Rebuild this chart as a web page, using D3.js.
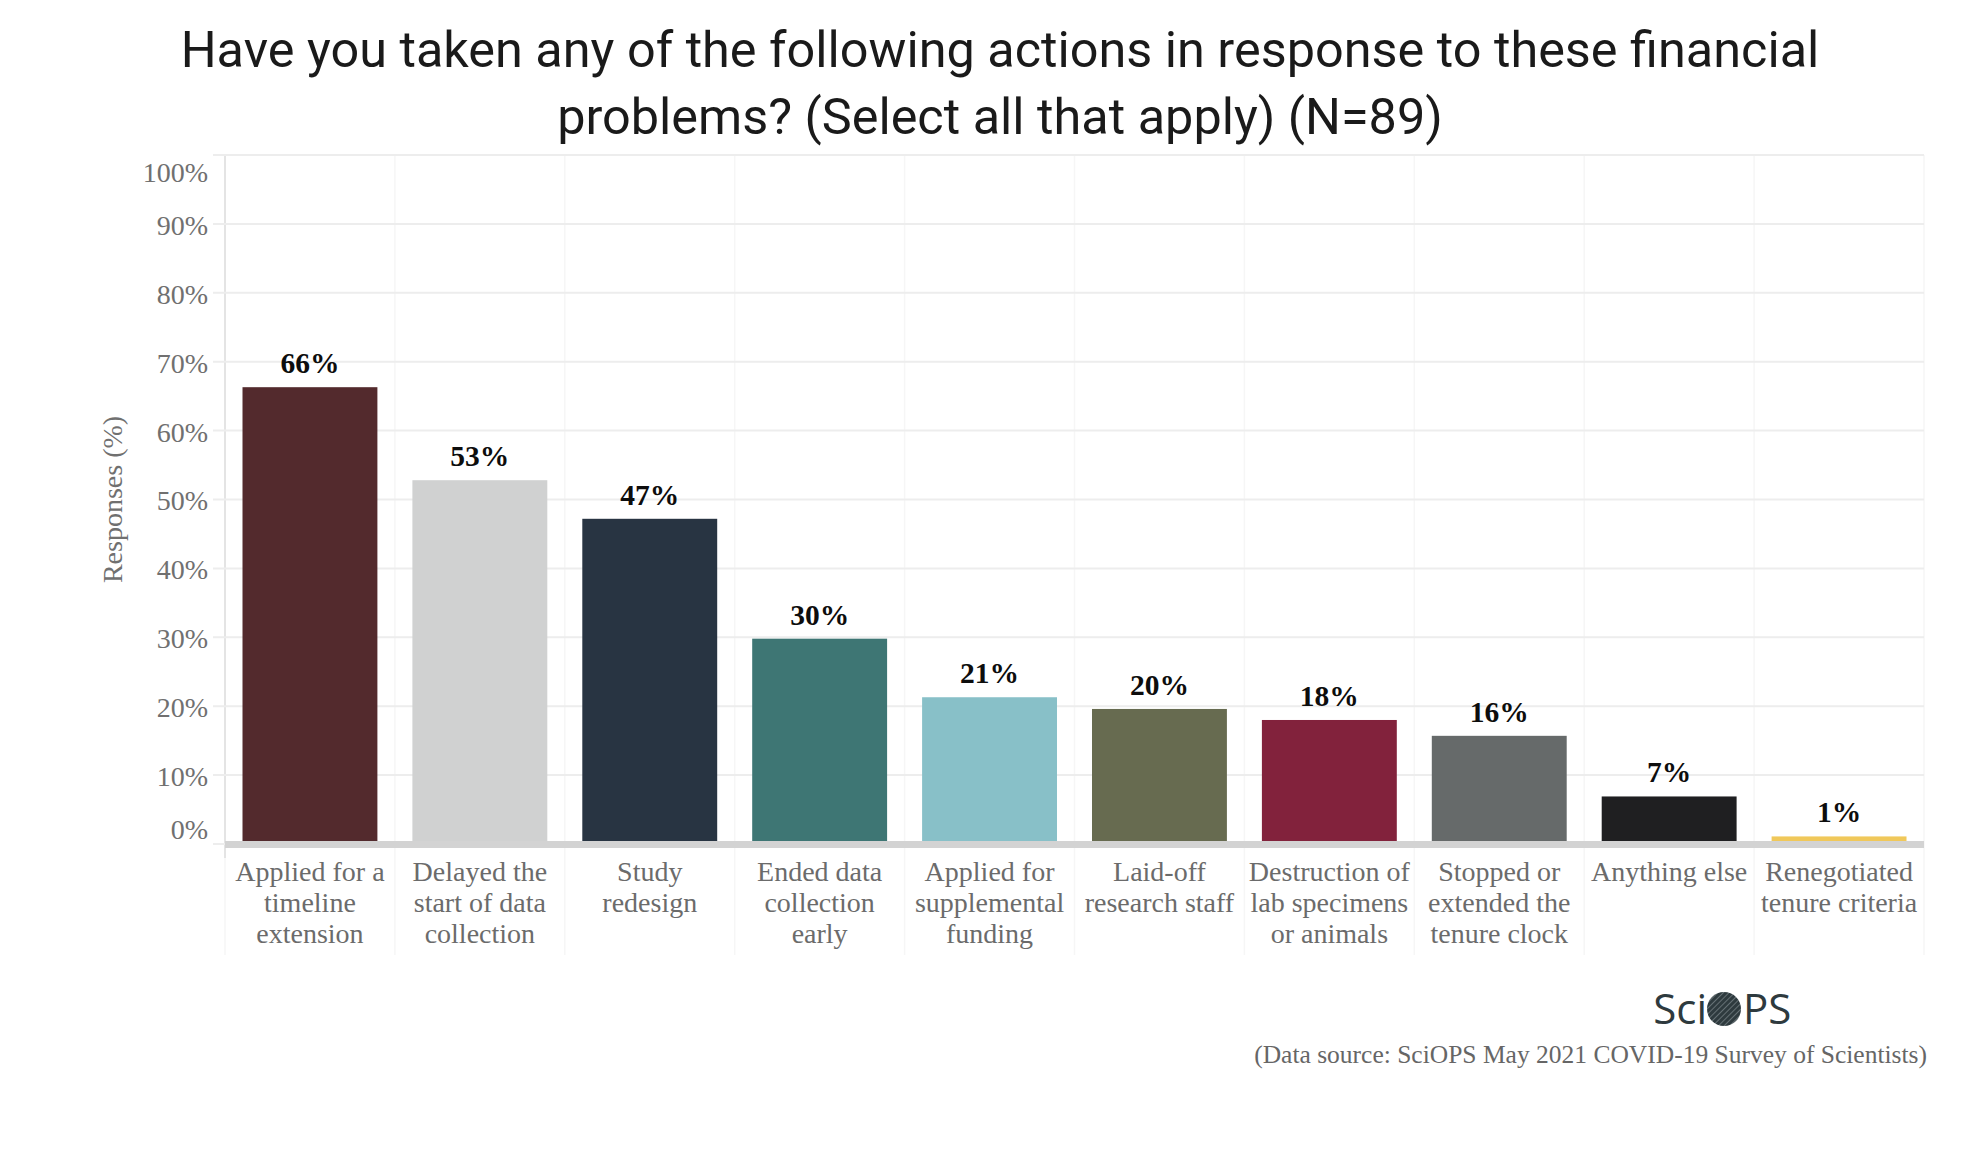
<!DOCTYPE html>
<html lang="en">
<head>
<meta charset="utf-8">
<title>Actions taken in response to financial problems</title>
<script src="https://d3js.org/d3.v7.min.js"></script>
<style>
  body { margin: 0; background: #fff; }
  svg text { font-family: "Liberation Serif", "Times New Roman", serif; }
</style>
</head>
<body>
<div id="chart"></div>
<script>
// Data
const categories = [
  "Applied for a\ntimeline\nextension",
  "Delayed the\nstart of data\ncollection",
  "Study\nredesign",
  "Ended data\ncollection\nearly",
  "Applied for\nsupplemental\nfunding",
  "Laid-off\nresearch staff",
  "Destruction of\nlab specimens\nor animals",
  "Stopped or\nextended the\ntenure clock",
  "Anything else",
  "Renegotiated\ntenure criteria"
];
const values = [66.3, 52.8, 47.2, 29.8, 21.3, 19.6, 18.0, 15.7, 6.9, 1.1];
const barColors = ["#532a2d", "#d0d1d1", "#283442", "#3e7674", "#88c0c8",
                   "#676b50", "#82223c", "#666a6a", "#1f1f21", "#f0c85a"];
const yTicks = [0, 10, 20, 30, 40, 50, 60, 70, 80, 90, 100];
const titleLines = [
  "Have you taken any of the following actions in response to these financial",
  "problems? (Select all that apply) (N=89)"
];

// Dimensions
const W = 1986, H = 1154;
const plot = { left: 225, right: 1924, top: 155, bottom: 844 };

const svg = d3.select("#chart").append("svg")
  .attr("width", W).attr("height", H)
  .style("display", "block");

svg.append("rect").attr("width", W).attr("height", H).attr("fill", "#fff");

// Scales
const x = d3.scaleBand()
  .domain(categories)
  .range([plot.left, plot.right])
  .paddingInner(0.206)
  .paddingOuter(0.103);

const y = d3.scaleLinear()
  .domain([0, 100])
  .range([plot.bottom, plot.top]);

// Faint category separators
const seps = d3.range(categories.length + 1).map(i => plot.left + i * x.step());
svg.append("g").selectAll("line").data(seps).join("line")
  .attr("x1", d => d).attr("x2", d => d)
  .attr("y1", plot.top).attr("y2", 955)
  .attr("stroke", "#f6f6f6").attr("stroke-width", 1.5);

// Y axis line
svg.append("line")
  .attr("x1", plot.left).attr("x2", plot.left)
  .attr("y1", plot.top).attr("y2", 858)
  .attr("stroke", "#e4e4e4").attr("stroke-width", 2);

// Horizontal gridlines
svg.append("g").selectAll("line").data(yTicks).join("line")
  .attr("x1", plot.left - 12).attr("x2", plot.right)
  .attr("y1", d => y(d)).attr("y2", d => y(d))
  .attr("stroke", "#ededed").attr("stroke-width", 2);

// Bars
svg.append("g").selectAll("rect").data(values).join("rect")
  .attr("x", (d, i) => x(categories[i]))
  .attr("y", d => y(d))
  .attr("width", x.bandwidth())
  .attr("height", d => y(0) - y(d))
  .attr("fill", (d, i) => barColors[i]);

// Zero line
svg.append("line")
  .attr("x1", plot.left).attr("x2", plot.right)
  .attr("y1", y(0) + 0.5).attr("y2", y(0) + 0.5)
  .attr("stroke", "#d3d3d3").attr("stroke-width", 7);

// Value labels
svg.append("g").selectAll("text").data(values).join("text")
  .attr("x", (d, i) => x(categories[i]) + x.bandwidth() / 2)
  .attr("y", d => y(d) - 14)
  .attr("text-anchor", "middle")
  .style("font-size", "29.5px")
  .style("font-weight", "bold")
  .attr("fill", "#0d0d0d")
  .text(d => Math.round(d) + "%");

// Y axis tick labels
const yAxis = svg.append("g")
  .attr("transform", `translate(${plot.left},0)`)
  .call(d3.axisLeft(y).tickValues(yTicks).tickFormat(d => d + "%").tickSize(0).tickPadding(17));
yAxis.select(".domain").remove();
yAxis.selectAll(".tick")
  .attr("transform", d => `translate(0,${Math.max(173, Math.min(830, y(d) + 2))})`);
yAxis.selectAll(".tick text")
  .style("font-size", "28px")
  .style("font-family", "'Liberation Serif', serif")
  .attr("fill", "#707070");

// Y axis title
svg.append("text")
  .attr("transform", `translate(112,${(plot.top + plot.bottom) / 2}) rotate(-90)`)
  .attr("text-anchor", "middle")
  .attr("dy", "0.35em")
  .style("font-size", "28px")
  .attr("fill", "#707070")
  .text("Responses (%)");

// X category labels
const xl = svg.append("g").selectAll("text").data(categories).join("text")
  .attr("x", d => x(d) + x.bandwidth() / 2)
  .attr("y", 881)
  .attr("text-anchor", "middle")
  .style("font-size", "28px")
  .attr("fill", "#6b6b6b");
xl.selectAll("tspan").data(d => d.split("\n")).join("tspan")
  .attr("x", function () { return d3.select(this.parentNode).attr("x"); })
  .attr("dy", (d, i) => i === 0 ? 0 : 31)
  .text(d => d);

// Title, fitted to the width of the first line
const tl = svg.append("g").attr("fill", "#1a1a1a")
  .selectAll("text").data(titleLines).join("text")
  .attr("x", 1000)
  .attr("y", (d, i) => 67 + i * 67)
  .attr("text-anchor", "middle")
  .style("font-family", "Roboto, 'Liberation Sans', sans-serif")
  .style("font-weight", "400")
  .style("font-size", "48px")
  .text(d => d);
const firstLen = tl.node().getComputedTextLength();
tl.style("font-size", (48 * 1639 / firstLen) + "px");

// SciOPS logo
const defs = svg.append("defs");
const hatch = defs.append("pattern")
  .attr("id", "hatch")
  .attr("patternUnits", "userSpaceOnUse")
  .attr("width", 4).attr("height", 4)
  .attr("patternTransform", "rotate(45)");
hatch.append("rect").attr("width", 4).attr("height", 4).attr("fill", "#2e3a3e");
hatch.append("line").attr("x1", 0).attr("x2", 0).attr("y1", 0).attr("y2", 4)
  .attr("stroke", "#8a9598").attr("stroke-width", 1.2);

const logo = svg.append("g").attr("fill", "#2e3a3e");
logo.append("text")
  .attr("x", 1707).attr("y", 1024)
  .attr("text-anchor", "end")
  .style("font-family", "'Open Sans', sans-serif")
  .style("font-size", "42px")
  .text("Sci");
logo.append("circle")
  .attr("cx", 1724).attr("cy", 1009).attr("r", 17)
  .attr("fill", "url(#hatch)");
logo.append("text")
  .attr("x", 1743).attr("y", 1024)
  .style("font-family", "'Open Sans', sans-serif")
  .style("font-size", "42px")
  .text("PS");

// Source note
svg.append("text")
  .attr("x", 1927).attr("y", 1063)
  .attr("text-anchor", "end")
  .style("font-size", "25.5px")
  .attr("fill", "#666")
  .text("(Data source: SciOPS May 2021 COVID-19 Survey of Scientists)");
</script>
</body>
</html>
